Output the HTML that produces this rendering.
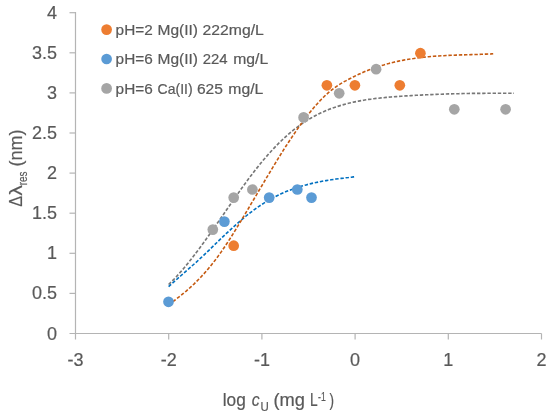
<!DOCTYPE html><html><head><meta charset="utf-8"><title>chart</title><style>html,body{margin:0;padding:0;background:#fff}svg{display:block}text{font-family:"Liberation Sans",sans-serif;fill:#595959;stroke:#595959;stroke-width:0.2px}</style></head><body>
<svg width="550" height="416" viewBox="0 0 550 416">
<rect width="550" height="416" fill="#fff"/>
<g stroke="#b4b4b4" stroke-width="1.2" fill="none">
<line x1="75.5" y1="12.10" x2="75.5" y2="339.5"/>
<line x1="69.5" y1="333.5" x2="541.5" y2="333.5"/>
<line x1="69.5" y1="293.40" x2="75.5" y2="293.40"/>
<line x1="69.5" y1="253.30" x2="75.5" y2="253.30"/>
<line x1="69.5" y1="213.20" x2="75.5" y2="213.20"/>
<line x1="69.5" y1="173.10" x2="75.5" y2="173.10"/>
<line x1="69.5" y1="133.00" x2="75.5" y2="133.00"/>
<line x1="69.5" y1="92.90" x2="75.5" y2="92.90"/>
<line x1="69.5" y1="52.80" x2="75.5" y2="52.80"/>
<line x1="69.5" y1="12.70" x2="75.5" y2="12.70"/>
<line x1="168.70" y1="333.5" x2="168.70" y2="339.5"/>
<line x1="261.90" y1="333.5" x2="261.90" y2="339.5"/>
<line x1="355.10" y1="333.5" x2="355.10" y2="339.5"/>
<line x1="448.30" y1="333.5" x2="448.30" y2="339.5"/>
<line x1="541.50" y1="333.5" x2="541.50" y2="339.5"/>
</g>
<text x="57" y="339.5" font-size="18" text-anchor="end">0</text>
<text x="57" y="299.4" font-size="18" text-anchor="end">0.5</text>
<text x="57" y="259.3" font-size="18" text-anchor="end">1</text>
<text x="57" y="219.2" font-size="18" text-anchor="end">1.5</text>
<text x="57" y="179.1" font-size="18" text-anchor="end">2</text>
<text x="57" y="139.0" font-size="18" text-anchor="end">2.5</text>
<text x="57" y="98.9" font-size="18" text-anchor="end">3</text>
<text x="57" y="58.8" font-size="18" text-anchor="end">3.5</text>
<text x="57" y="18.7" font-size="18" text-anchor="end">4</text>
<text x="75.5" y="365.8" font-size="18" text-anchor="middle">-3</text>
<text x="168.7" y="365.8" font-size="18" text-anchor="middle">-2</text>
<text x="261.9" y="365.8" font-size="18" text-anchor="middle">-1</text>
<text x="355.1" y="365.8" font-size="18" text-anchor="middle">0</text>
<text x="448.3" y="365.8" font-size="18" text-anchor="middle">1</text>
<text x="541.5" y="365.8" font-size="18" text-anchor="middle">2</text>
<path d="M168.6,284.5 L171.1,282.1 L173.6,279.6 L176.1,277.0 L178.6,274.2 L181.1,271.4 L183.6,268.5 L186.1,265.5 L188.6,262.5 L191.1,259.3 L193.6,256.1 L196.1,252.8 L198.6,249.5 L201.1,246.1 L203.6,242.7 L206.1,239.2 L208.6,235.7 L211.1,232.2 L213.6,228.6 L216.1,225.0 L218.6,221.4 L221.1,217.8 L223.6,214.2 L226.1,210.5 L228.6,206.9 L231.1,203.3 L233.6,199.7 L236.1,196.2 L238.6,192.6 L241.1,189.1 L243.6,185.6 L246.1,182.2 L248.6,178.8 L251.1,175.5 L253.6,172.2 L256.1,169.0 L258.6,165.9 L261.1,162.8 L263.6,159.8 L266.1,156.9 L268.6,154.0 L271.1,151.3 L273.6,148.6 L276.1,146.0 L278.6,143.4 L281.1,141.0 L283.6,138.6 L286.1,136.3 L288.6,134.1 L291.1,132.0 L293.6,129.9 L296.1,128.0 L298.6,126.1 L301.1,124.3 L303.6,122.6 L306.1,121.0 L308.6,119.5 L311.1,118.0 L313.6,116.6 L316.1,115.3 L318.6,114.0 L321.1,112.8 L323.6,111.7 L326.1,110.6 L328.6,109.6 L331.1,108.6 L333.6,107.7 L336.1,106.9 L338.6,106.1 L341.1,105.3 L343.6,104.6 L346.1,103.9 L348.6,103.3 L351.1,102.7 L353.6,102.1 L356.1,101.6 L358.6,101.1 L361.1,100.6 L363.6,100.2 L366.1,99.8 L368.6,99.4 L371.1,99.1 L373.6,98.7 L376.1,98.4 L378.6,98.2 L381.1,97.9 L383.6,97.7 L386.1,97.4 L388.6,97.2 L391.1,97.0 L393.6,96.8 L396.1,96.6 L398.6,96.4 L401.1,96.3 L403.6,96.1 L406.1,95.9 L408.6,95.8 L411.1,95.6 L413.6,95.5 L416.1,95.3 L418.6,95.2 L421.1,95.1 L423.6,94.9 L426.1,94.8 L428.6,94.7 L431.1,94.6 L433.6,94.5 L436.1,94.4 L438.6,94.3 L441.1,94.2 L443.6,94.1 L446.1,94.0 L448.6,93.9 L451.1,93.9 L453.6,93.8 L456.1,93.7 L458.6,93.7 L461.1,93.6 L463.6,93.5 L466.1,93.5 L468.6,93.5 L471.1,93.4 L473.6,93.4 L476.1,93.3 L478.6,93.3 L481.1,93.3 L483.6,93.3 L486.1,93.2 L488.6,93.2 L491.1,93.2 L493.6,93.2 L496.1,93.2 L498.6,93.2 L501.1,93.2 L503.6,93.2 L506.1,93.2 L508.6,93.2 L511.1,93.2 L513.6,93.2 L514.0,93.2" fill="none" stroke="#777777" stroke-width="1.65" stroke-dasharray="3.4 1.8"/>
<path d="M168.6,286.7 L171.1,284.4 L173.6,282.2 L176.1,280.0 L178.6,277.7 L181.1,275.5 L183.6,273.3 L186.1,271.1 L188.6,268.9 L191.1,266.7 L193.6,264.5 L196.1,262.3 L198.6,260.0 L201.1,257.7 L203.6,255.4 L206.1,253.0 L208.6,250.6 L211.1,248.2 L213.6,245.8 L216.1,243.3 L218.6,240.9 L221.1,238.5 L223.6,236.1 L226.1,233.7 L228.6,231.4 L231.1,229.1 L233.6,226.8 L236.1,224.6 L238.6,222.4 L241.1,220.2 L243.6,218.1 L246.1,216.0 L248.6,214.0 L251.1,212.1 L253.6,210.2 L256.1,208.4 L258.6,206.6 L261.1,204.9 L263.6,203.3 L266.1,201.7 L268.6,200.3 L271.1,198.8 L273.6,197.5 L276.1,196.2 L278.6,195.0 L281.1,193.8 L283.6,192.7 L286.1,191.6 L288.6,190.6 L291.1,189.7 L293.6,188.8 L296.1,187.9 L298.6,187.1 L301.1,186.3 L303.6,185.6 L306.1,184.9 L308.6,184.2 L311.1,183.6 L313.6,183.0 L316.1,182.5 L318.6,182.0 L321.1,181.5 L323.6,181.0 L326.1,180.6 L328.6,180.2 L331.1,179.8 L333.6,179.4 L336.1,179.0 L338.6,178.7 L341.1,178.4 L343.6,178.1 L346.1,177.7 L348.6,177.5 L351.1,177.2 L353.6,176.9 L354.4,176.8" fill="none" stroke="#0070c0" stroke-width="1.6" stroke-dasharray="3.4 1.8"/>
<path d="M168.7,304.6 L171.2,302.8 L173.7,301.0 L176.2,299.1 L178.7,297.2 L181.2,295.2 L183.7,293.2 L186.2,291.1 L188.7,288.9 L191.2,286.6 L193.7,284.3 L196.2,281.8 L198.7,279.3 L201.2,276.7 L203.7,274.0 L206.2,271.2 L208.7,268.2 L211.2,265.2 L213.7,262.1 L216.2,258.8 L218.7,255.4 L221.2,251.9 L223.7,248.2 L226.2,244.5 L228.7,240.7 L231.2,236.8 L233.7,232.8 L236.2,228.8 L238.7,224.7 L241.2,220.6 L243.7,216.4 L246.2,212.2 L248.7,208.0 L251.2,203.7 L253.7,199.5 L256.2,195.3 L258.7,191.0 L261.2,186.8 L263.7,182.6 L266.2,178.3 L268.7,174.2 L271.2,170.0 L273.7,165.9 L276.2,161.8 L278.7,157.7 L281.2,153.7 L283.7,149.7 L286.2,145.8 L288.7,142.0 L291.2,138.2 L293.7,134.5 L296.2,130.8 L298.7,127.3 L301.2,123.8 L303.7,120.4 L306.2,117.1 L308.7,113.9 L311.2,110.8 L313.7,107.8 L316.2,104.9 L318.7,102.1 L321.2,99.5 L323.7,97.0 L326.2,94.6 L328.7,92.4 L331.2,90.3 L333.7,88.4 L336.2,86.6 L338.7,84.9 L341.2,83.4 L343.7,81.9 L346.2,80.6 L348.7,79.2 L351.2,78.0 L353.7,76.7 L356.2,75.5 L358.7,74.3 L361.2,73.2 L363.7,72.1 L366.2,71.0 L368.7,70.0 L371.2,69.1 L373.7,68.1 L376.2,67.3 L378.7,66.4 L381.2,65.6 L383.7,64.9 L386.2,64.1 L388.7,63.5 L391.2,62.8 L393.7,62.2 L396.2,61.6 L398.7,61.1 L401.2,60.6 L403.7,60.1 L406.2,59.6 L408.7,59.2 L411.2,58.8 L413.7,58.5 L416.2,58.1 L418.7,57.8 L421.2,57.5 L423.7,57.2 L426.2,57.0 L428.7,56.7 L431.2,56.5 L433.7,56.3 L436.2,56.1 L438.7,56.0 L441.2,55.8 L443.7,55.7 L446.2,55.5 L448.7,55.4 L451.2,55.3 L453.7,55.2 L456.2,55.1 L458.7,55.0 L461.2,54.9 L463.7,54.9 L466.2,54.8 L468.7,54.7 L471.2,54.6 L473.7,54.5 L476.2,54.5 L478.7,54.4 L481.2,54.3 L483.7,54.2 L486.2,54.1 L488.7,54.0 L491.2,53.9 L493.2,53.7" fill="none" stroke="#c55a11" stroke-width="1.6" stroke-dasharray="3.4 1.8"/>
<circle cx="233.7" cy="245.7" r="5.35" fill="#ed7d31"/>
<circle cx="326.9" cy="85.3" r="5.35" fill="#ed7d31"/>
<circle cx="354.9" cy="85.3" r="5.35" fill="#ed7d31"/>
<circle cx="399.8" cy="85.3" r="5.35" fill="#ed7d31"/>
<circle cx="420.4" cy="53.2" r="5.35" fill="#ed7d31"/>
<circle cx="168.5" cy="301.8" r="5.35" fill="#5b9bd5"/>
<circle cx="224.4" cy="221.6" r="5.35" fill="#5b9bd5"/>
<circle cx="269.2" cy="197.6" r="5.35" fill="#5b9bd5"/>
<circle cx="297.3" cy="189.5" r="5.35" fill="#5b9bd5"/>
<circle cx="311.5" cy="197.6" r="5.35" fill="#5b9bd5"/>
<circle cx="212.8" cy="229.6" r="5.35" fill="#a5a5a5"/>
<circle cx="233.7" cy="197.6" r="5.35" fill="#a5a5a5"/>
<circle cx="252.4" cy="189.5" r="5.35" fill="#a5a5a5"/>
<circle cx="303.6" cy="117.4" r="5.35" fill="#a5a5a5"/>
<circle cx="339.2" cy="93.3" r="5.35" fill="#a5a5a5"/>
<circle cx="376.1" cy="69.2" r="5.35" fill="#a5a5a5"/>
<circle cx="454.3" cy="109.3" r="5.35" fill="#a5a5a5"/>
<circle cx="505.6" cy="109.3" r="5.35" fill="#a5a5a5"/>
<circle cx="106.6" cy="29.6" r="5.35" fill="#ed7d31"/>
<circle cx="106.6" cy="59.0" r="5.35" fill="#5b9bd5"/>
<circle cx="106.6" cy="88.4" r="5.35" fill="#a5a5a5"/>
<text x="115.63" y="34.5" font-size="14.4" textLength="37.09" lengthAdjust="spacingAndGlyphs">pH=2</text>
<text x="157.56" y="34.5" font-size="14.4" textLength="40.47" lengthAdjust="spacingAndGlyphs">Mg(II)</text>
<text x="202.55" y="34.5" font-size="14.4" textLength="61.31" lengthAdjust="spacingAndGlyphs">222mg/L</text>
<text x="115.63" y="64.0" font-size="14.4" textLength="37.08" lengthAdjust="spacingAndGlyphs">pH=6</text>
<text x="157.57" y="64.0" font-size="14.4" textLength="40.41" lengthAdjust="spacingAndGlyphs">Mg(II)</text>
<text x="202.80" y="64.0" font-size="14.4" textLength="24.86" lengthAdjust="spacingAndGlyphs">224</text>
<text x="233.19" y="64.0" font-size="14.4" textLength="34.97" lengthAdjust="spacingAndGlyphs">mg/L</text>
<text x="115.63" y="93.5" font-size="14.4" textLength="37.08" lengthAdjust="spacingAndGlyphs">pH=6</text>
<text x="157.59" y="93.5" font-size="14.4" textLength="35.02" lengthAdjust="spacingAndGlyphs">Ca(II)</text>
<text x="196.94" y="93.5" font-size="14.4" textLength="25.97" lengthAdjust="spacingAndGlyphs">625</text>
<text x="228.28" y="93.5" font-size="14.4" textLength="35.02" lengthAdjust="spacingAndGlyphs">mg/L</text>
<text x="222.73" y="405.7" font-size="17.6" textLength="23.04" lengthAdjust="spacingAndGlyphs">log</text>
<text x="251.86" y="405.7" font-size="17.6" font-style="italic" textLength="7.88" lengthAdjust="spacingAndGlyphs">c</text>
<text x="260.38" y="410.6" font-size="12.5" textLength="8.28" lengthAdjust="spacingAndGlyphs">U</text>
<text x="273.40" y="405.7" font-size="17.6" textLength="31.50" lengthAdjust="spacingAndGlyphs">(mg</text>
<text x="309.95" y="405.7" font-size="17.6" textLength="7.67" lengthAdjust="spacingAndGlyphs">L</text>
<text x="318.06" y="400.6" font-size="12.5" textLength="7.72" lengthAdjust="spacingAndGlyphs">-1</text>
<text x="329.59" y="405.7" font-size="17.6" textLength="4.52" lengthAdjust="spacingAndGlyphs">)</text>
<g transform="translate(21.8,206.4) rotate(-90)">
<text x="-0.35" y="0" font-size="17.6" textLength="10.80" lengthAdjust="spacingAndGlyphs">Δ</text>
<text x="10.76" y="0" font-size="17.6" textLength="10.63" lengthAdjust="spacingAndGlyphs">λ</text>
<text x="21.09" y="5.6" font-size="12.5" textLength="13.72" lengthAdjust="spacingAndGlyphs">res</text>
<text x="39.97" y="0" font-size="17.6" textLength="36.91" lengthAdjust="spacingAndGlyphs">(nm)</text>
</g>
</svg></body></html>
